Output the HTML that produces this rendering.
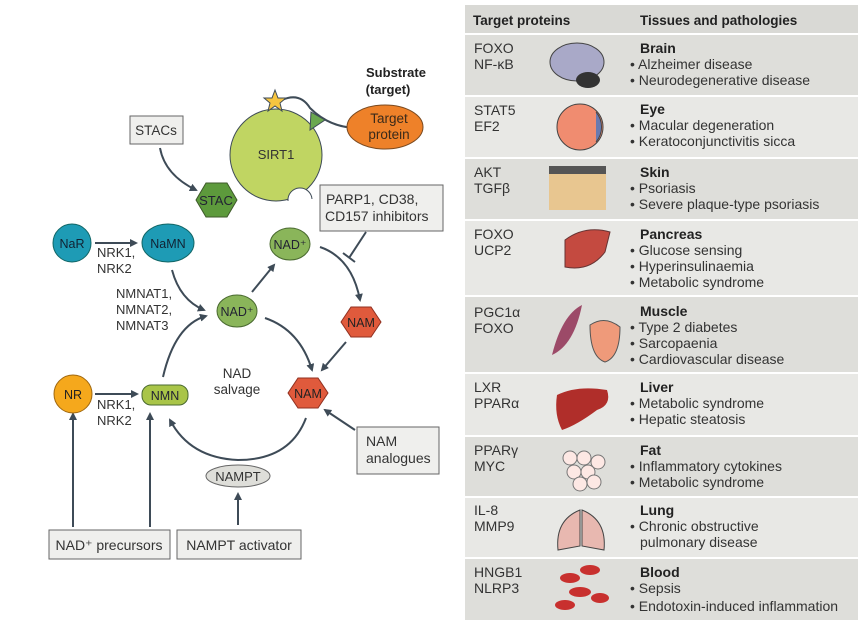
<!DOCTYPE html>
<html><head><meta charset="utf-8"><style>
html,body{margin:0;padding:0;background:#fff;width:864px;height:626px;overflow:hidden}
svg text{font-family:"Liberation Sans",sans-serif}
</style></head><body>
<svg width="864" height="626" viewBox="0 0 864 626" xmlns="http://www.w3.org/2000/svg">
<defs>
<marker id="ar" markerWidth="8" markerHeight="8" refX="6" refY="4" orient="auto" markerUnits="userSpaceOnUse"><path d="M0,0 L8,4 L0,8 Z" fill="#3e4b57"/></marker>
</defs>
<g stroke="#3e4b57" stroke-width="2" fill="none">
<path d="M160,148 Q165,175 196,190" marker-end="url(#ar)"/>
<line x1="95" y1="243" x2="136" y2="243" marker-end="url(#ar)"/>
<path d="M172,270 Q180,300 204,310" marker-end="url(#ar)"/>
<line x1="252" y1="292" x2="274" y2="265" marker-end="url(#ar)"/>
<path d="M320,247 Q352,258 360,300" marker-end="url(#ar)"/>
<line x1="366" y1="232" x2="349" y2="258"/><line x1="343" y1="253" x2="355" y2="262"/>
<path d="M163,377 Q175,325 206,316" marker-end="url(#ar)"/>
<path d="M265,318 Q300,330 312,370" marker-end="url(#ar)"/>
<line x1="346" y1="342" x2="322" y2="370" marker-end="url(#ar)"/>
<path d="M306,418 Q290,460 238,460 Q190,458 170,420" marker-end="url(#ar)"/>
<line x1="95" y1="394" x2="137" y2="394" marker-end="url(#ar)"/>
<line x1="355" y1="430" x2="325" y2="410" marker-end="url(#ar)"/>
<line x1="73" y1="527" x2="73" y2="414" marker-end="url(#ar)"/>
<line x1="150" y1="527" x2="150" y2="414" marker-end="url(#ar)"/>
<line x1="238" y1="525" x2="238" y2="494" marker-end="url(#ar)"/>
<path d="M282,100 Q300,92 310,108 Q330,128 358,128"/>
</g>
<circle cx="276" cy="155" r="46" fill="#c0d562" stroke="#3e4b57" stroke-width="1"/>
<path d="M288,201 a12,12 0 0 1 24,-2" fill="#fff" stroke="#3e4b57" stroke-width="1"/>
<polygon points="311,112 325,120 310,130" fill="#6aa84f" stroke="#3e4b57" stroke-width="1"/>
<polygon points="275,90 278,98 286,98 280,103 282,111 275,106 268,111 270,103 264,98 272,98" fill="#f7c540" stroke="#3e4b57" stroke-width="1"/>
<text x="276" y="159" font-size="13" text-anchor="middle" fill="#333">SIRT1</text>
<ellipse cx="385" cy="127" rx="38" ry="22" fill="#ee8129" stroke="#7a4a20" stroke-width="1"/>
<text x="389" y="123" font-size="13.5" text-anchor="middle" fill="#3a2a1a">Target</text>
<text x="389" y="139" font-size="13.5" text-anchor="middle" fill="#3a2a1a">protein</text>
<text x="396" y="77" font-size="13" font-weight="bold" text-anchor="middle" fill="#222">Substrate</text>
<text x="388" y="94" font-size="13" font-weight="bold" text-anchor="middle" fill="#222">(target)</text>
<rect x="130" y="116" width="53" height="28" fill="#efefed" stroke="#666"/>
<text x="156" y="135" font-size="13.5" text-anchor="middle" fill="#333">STACs</text>
<polygon points="196,200 206,183 227,183 237,200 227,217 206,217" fill="#5d9a3c" stroke="#3e5a2a" stroke-width="1"/>
<text x="216" y="205" font-size="13" text-anchor="middle" fill="#223">STAC</text>
<rect x="320" y="185" width="123" height="46" fill="#efefed" stroke="#666"/>
<text x="326" y="204" font-size="14" fill="#333">PARP1, CD38,</text>
<text x="325" y="221" font-size="14" fill="#333">CD157 inhibitors</text>
<circle cx="72" cy="243" r="19" fill="#1e9bb5" stroke="#166" stroke-width="1"/>
<text x="72" y="248" font-size="12.5" text-anchor="middle" fill="#123">NaR</text>
<ellipse cx="168" cy="243" rx="26" ry="19" fill="#1e9bb5" stroke="#166" stroke-width="1"/>
<text x="168" y="248" font-size="12.5" text-anchor="middle" fill="#123">NaMN</text>
<text x="97" y="257" font-size="13" fill="#333">NRK1,</text>
<text x="97" y="273" font-size="13" fill="#333">NRK2</text>
<ellipse cx="290" cy="244" rx="20" ry="16" fill="#8ab55a" stroke="#4a6a30" stroke-width="1"/>
<text x="290" y="249" font-size="12.5" text-anchor="middle" fill="#223">NAD⁺</text>
<ellipse cx="237" cy="311" rx="20" ry="16" fill="#8ab55a" stroke="#4a6a30" stroke-width="1"/>
<text x="237" y="316" font-size="12.5" text-anchor="middle" fill="#223">NAD⁺</text>
<text x="116" y="298" font-size="13" fill="#333">NMNAT1,</text>
<text x="116" y="314" font-size="13" fill="#333">NMNAT2,</text>
<text x="116" y="330" font-size="13" fill="#333">NMNAT3</text>
<polygon points="341,322 351,307 371,307 381,322 371,337 351,337" fill="#e05a3c" stroke="#903020" stroke-width="1"/>
<text x="361" y="327" font-size="12.5" text-anchor="middle" fill="#222">NAM</text>
<polygon points="288,393 298,378 318,378 328,393 318,408 298,408" fill="#e05a3c" stroke="#903020" stroke-width="1"/>
<text x="308" y="398" font-size="12.5" text-anchor="middle" fill="#222">NAM</text>
<text x="237" y="378" font-size="13.5" text-anchor="middle" fill="#333">NAD</text>
<text x="237" y="394" font-size="13.5" text-anchor="middle" fill="#333">salvage</text>
<circle cx="73" cy="394" r="19" fill="#f5a81c" stroke="#a06810" stroke-width="1"/>
<text x="73" y="399" font-size="12.5" text-anchor="middle" fill="#222">NR</text>
<rect x="142" y="385" width="46" height="20" rx="9" fill="#a9c548" stroke="#4a6a30" stroke-width="1"/>
<text x="165" y="400" font-size="12.5" text-anchor="middle" fill="#223">NMN</text>
<text x="97" y="409" font-size="13" fill="#333">NRK1,</text>
<text x="97" y="425" font-size="13" fill="#333">NRK2</text>
<rect x="357" y="427" width="82" height="47" fill="#efefed" stroke="#666"/>
<text x="366" y="446" font-size="14" fill="#333">NAM</text>
<text x="366" y="463" font-size="14" fill="#333">analogues</text>
<ellipse cx="238" cy="476" rx="32" ry="11" fill="#deded9" stroke="#666" stroke-width="1"/>
<text x="238" y="481" font-size="13" text-anchor="middle" fill="#333">NAMPT</text>
<rect x="49" y="530" width="121" height="29" fill="#efefed" stroke="#666"/>
<text x="109" y="550" font-size="14" text-anchor="middle" fill="#333">NAD⁺ precursors</text>
<rect x="177" y="530" width="124" height="29" fill="#efefed" stroke="#666"/>
<text x="239" y="550" font-size="14" text-anchor="middle" fill="#333">NAMPT activator</text>

<rect x="465" y="5" width="393" height="616" fill="#fff"/>
<rect x="465" y="5" width="393" height="28" fill="#d9d9d5"/>
<text x="473" y="25" font-size="13.5" font-weight="bold" fill="#222">Target proteins</text>
<text x="640" y="25" font-size="13.5" font-weight="bold" fill="#222">Tissues and pathologies</text>
<g font-size="14" fill="#333">
<rect x="465" y="35" width="393" height="60" fill="#dededa"/>
<rect x="465" y="97" width="393" height="60" fill="#e8e8e5"/>
<rect x="465" y="159" width="393" height="60" fill="#dededa"/>
<rect x="465" y="221" width="393" height="74" fill="#e8e8e5"/>
<rect x="465" y="297" width="393" height="75" fill="#dededa"/>
<rect x="465" y="374" width="393" height="61" fill="#e8e8e5"/>
<rect x="465" y="437" width="393" height="59" fill="#dededa"/>
<rect x="465" y="498" width="393" height="59" fill="#e8e8e5"/>
<rect x="465" y="559" width="393" height="61" fill="#dededa"/>
<text x="474" y="53">FOXO</text><text x="474" y="69">NF-κB</text>
<text x="640" y="53" font-weight="bold" fill="#222">Brain</text><text x="630" y="69">• Alzheimer disease</text><text x="630" y="85">• Neurodegenerative disease</text>
<text x="474" y="115">STAT5</text><text x="474" y="131">EF2</text>
<text x="640" y="114" font-weight="bold" fill="#222">Eye</text><text x="630" y="130">• Macular degeneration</text><text x="630" y="146">• Keratoconjunctivitis sicca</text>
<text x="474" y="177">AKT</text><text x="474" y="193">TGFβ</text>
<text x="640" y="177" font-weight="bold" fill="#222">Skin</text><text x="630" y="193">• Psoriasis</text><text x="630" y="209">• Severe plaque-type psoriasis</text>
<text x="474" y="239">FOXO</text><text x="474" y="255">UCP2</text>
<text x="640" y="239" font-weight="bold" fill="#222">Pancreas</text><text x="630" y="255">• Glucose sensing</text><text x="630" y="271">• Hyperinsulinaemia</text><text x="630" y="287">• Metabolic syndrome</text>
<text x="474" y="317">PGC1α</text><text x="474" y="333">FOXO</text>
<text x="640" y="316" font-weight="bold" fill="#222">Muscle</text><text x="630" y="332">• Type 2 diabetes</text><text x="630" y="348">• Sarcopaenia</text><text x="630" y="364">• Cardiovascular disease</text>
<text x="474" y="392">LXR</text><text x="474" y="408">PPARα</text>
<text x="640" y="392" font-weight="bold" fill="#222">Liver</text><text x="630" y="408">• Metabolic syndrome</text><text x="630" y="424">• Hepatic steatosis</text>
<text x="474" y="455">PPARγ</text><text x="474" y="471">MYC</text>
<text x="640" y="455" font-weight="bold" fill="#222">Fat</text><text x="630" y="471">• Inflammatory cytokines</text><text x="630" y="487">• Metabolic syndrome</text>
<text x="474" y="515">IL-8</text><text x="474" y="531">MMP9</text>
<text x="640" y="515" font-weight="bold" fill="#222">Lung</text><text x="630" y="531">• Chronic obstructive</text><text x="640" y="547">pulmonary disease</text>
<text x="474" y="577">HNGB1</text><text x="474" y="593">NLRP3</text>
<text x="640" y="577" font-weight="bold" fill="#222">Blood</text><text x="630" y="593">• Sepsis</text><text x="630" y="611">• Endotoxin-induced inflammation</text>
</g>
<ellipse cx="577" cy="62" rx="27" ry="19" fill="#a9a9c8" stroke="#444" stroke-width="1"/>
<ellipse cx="588" cy="80" rx="12" ry="8" fill="#333"/>
<circle cx="580" cy="127" r="23" fill="#f08c70" stroke="#444"/>
<path d="M596,112 a23,23 0 0 1 0,30" fill="#6a7ab0" stroke="#444"/>
<rect x="549" y="166" width="57" height="44" fill="#e8c690"/>
<rect x="549" y="166" width="57" height="8" fill="#555"/>
<path d="M565,240 q20,-15 45,-8 l-5,20 q-15,20 -40,15 z" fill="#c44a40" stroke="#633"/>
<path d="M552,355 q10,-40 30,-50 q-8,40 -30,50z" fill="#9c4a68"/>
<path d="M590,325 q15,-10 30,2 q0,30 -15,35 q-15,-5 -15,-37z" fill="#ef9a7a" stroke="#555"/>
<path d="M557,395 q20,-10 50,-5 q5,15 -10,20 q-20,15 -35,20 q-8,-15 -5,-35z" fill="#b02e2a"/>
<g fill="#fde8e4" stroke="#777"><circle cx="570" cy="458" r="7"/><circle cx="584" cy="458" r="7"/><circle cx="598" cy="462" r="7"/><circle cx="574" cy="472" r="7"/><circle cx="588" cy="472" r="7"/><circle cx="580" cy="484" r="7"/><circle cx="594" cy="482" r="7"/></g>
<path d="M580,510 q-25,10 -22,40 l22,-4z M582,510 q25,10 22,40 l-22,-4z" fill="#e8b8b0" stroke="#444"/>
<g fill="#c8302e"><ellipse cx="570" cy="578" rx="10" ry="5"/><ellipse cx="590" cy="570" rx="10" ry="5"/><ellipse cx="580" cy="592" rx="11" ry="5"/><ellipse cx="600" cy="598" rx="9" ry="5"/><ellipse cx="565" cy="605" rx="10" ry="5"/></g>
</svg>
</body></html>
